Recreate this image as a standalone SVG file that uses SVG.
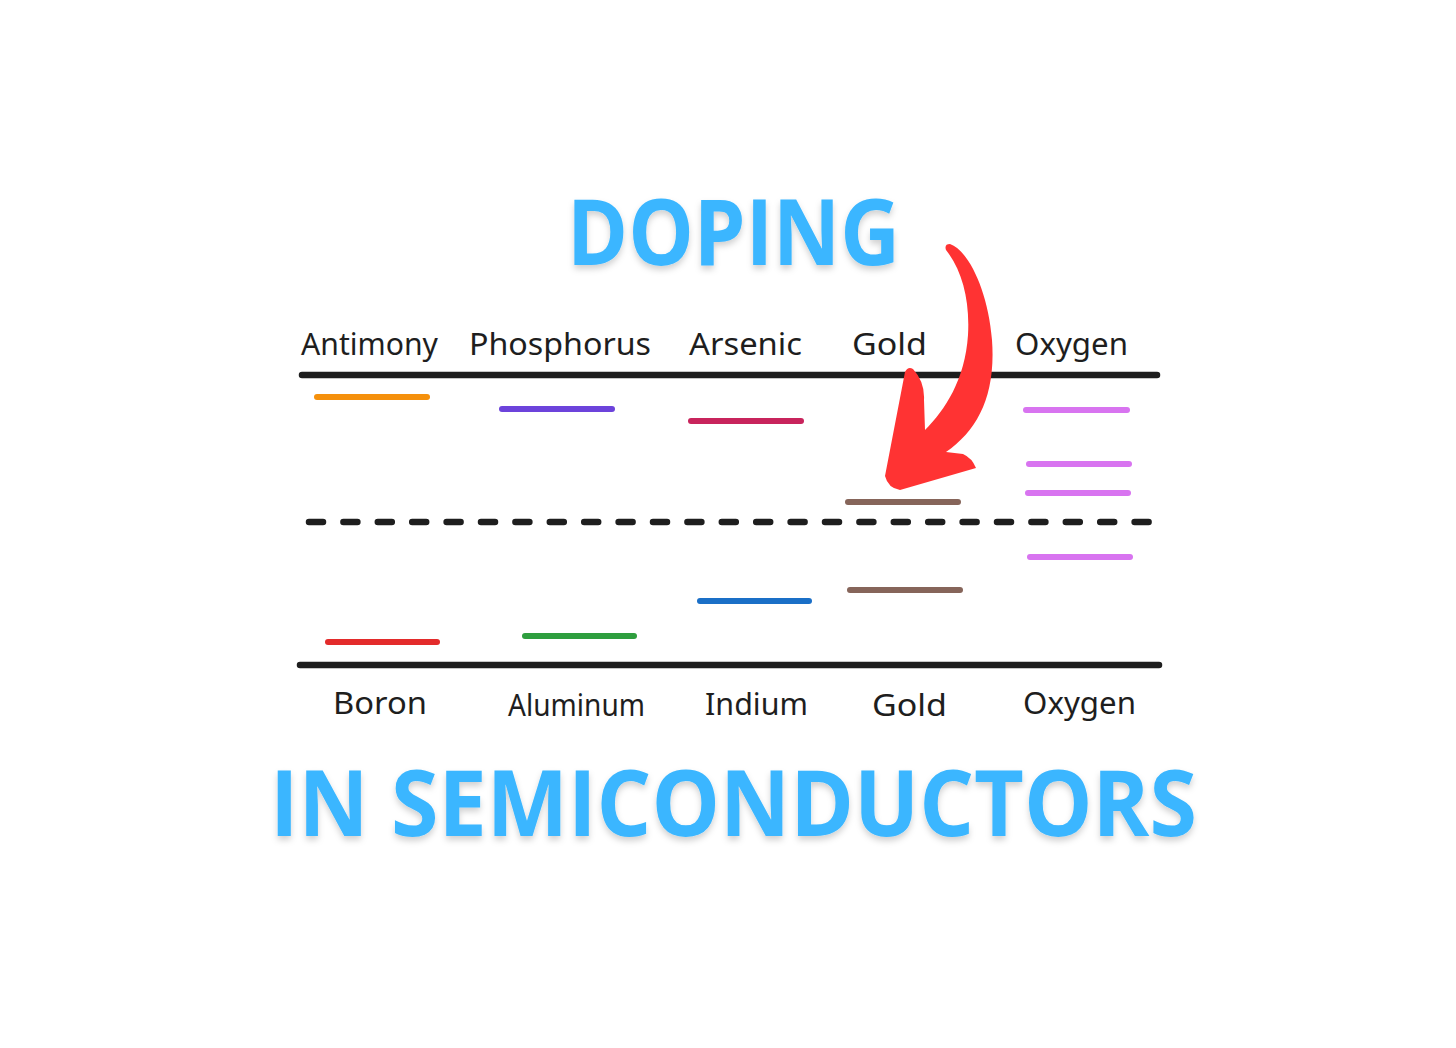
<svg xmlns="http://www.w3.org/2000/svg" width="1456" height="1048" viewBox="0 0 1456 1048">
<defs>
<filter id="sh" x="-10%" y="-20%" width="120%" height="150%">
<feDropShadow dx="0" dy="4" stdDeviation="3" flood-color="#000" flood-opacity="0.18"/>
</filter>
<style>
.title{font-family:"Open Sans","Noto Sans",sans-serif;font-weight:700;font-size:91px;fill:#3BB6FF;filter:url(#sh)}
.lbl{font-family:"Noto Sans","DejaVu Sans",sans-serif;font-size:30px;fill:#1e1e1e}
.axis{stroke:#1e1e1e;stroke-width:6.5;stroke-linecap:round;fill:none}
.lvl{stroke-width:6;stroke-linecap:round;fill:none}
</style>
</defs>
<rect width="1456" height="1048" fill="#fff"/>
<g id="title-top"><text class="title" x="567" y="265" textLength="333" lengthAdjust="spacingAndGlyphs">DOPING</text></g>
<g id="title-bottom"><text class="title" x="270" y="836" textLength="927" lengthAdjust="spacingAndGlyphs">IN SEMICONDUCTORS</text></g>
<g id="top-labels">
<text class="lbl" x="301" y="355" textLength="137" lengthAdjust="spacingAndGlyphs">Antimony</text>
<text class="lbl" x="469" y="355" textLength="182" lengthAdjust="spacingAndGlyphs">Phosphorus</text>
<text class="lbl" x="689" y="355" textLength="113" lengthAdjust="spacingAndGlyphs">Arsenic</text>
<text class="lbl" x="852" y="355" textLength="75" lengthAdjust="spacingAndGlyphs">Gold</text>
<text class="lbl" x="1015" y="355" textLength="113" lengthAdjust="spacingAndGlyphs">Oxygen</text>
</g>
<g id="bottom-labels">
<text class="lbl" x="333" y="714" textLength="94" lengthAdjust="spacingAndGlyphs">Boron</text>
<text class="lbl" x="508" y="716" textLength="137" lengthAdjust="spacingAndGlyphs">Aluminum</text>
<text class="lbl" x="705" y="715" textLength="103" lengthAdjust="spacingAndGlyphs">Indium</text>
<text class="lbl" x="872" y="716" textLength="75" lengthAdjust="spacingAndGlyphs">Gold</text>
<text class="lbl" x="1023" y="714" textLength="113" lengthAdjust="spacingAndGlyphs">Oxygen</text>
</g>
<g id="bands">
<line class="axis" x1="302" y1="375" x2="1157" y2="375"/>
<line class="axis" x1="300" y1="665" x2="1159" y2="665"/>
<line class="axis" x1="309" y1="522" x2="1152" y2="522" stroke-dasharray="14 20.4"/>
</g>
<g id="levels">
<line class="lvl" stroke="#F5900C" x1="317" y1="397" x2="427" y2="397"/>
<line class="lvl" stroke="#6C43DB" x1="502" y1="409" x2="612" y2="409"/>
<line class="lvl" stroke="#C8245C" x1="691" y1="421" x2="801" y2="421"/>
<line class="lvl" stroke="#86655A" x1="848" y1="502" x2="958" y2="502"/>
<line class="lvl" stroke="#86655A" x1="850" y1="590" x2="960" y2="590"/>
<line class="lvl" stroke="#D874F0" x1="1026" y1="410" x2="1127" y2="410"/>
<line class="lvl" stroke="#D874F0" x1="1029" y1="464" x2="1129" y2="464"/>
<line class="lvl" stroke="#D874F0" x1="1028" y1="493" x2="1128" y2="493"/>
<line class="lvl" stroke="#D874F0" x1="1030" y1="557" x2="1130" y2="557"/>
<line class="lvl" stroke="#E32B2B" x1="328" y1="642" x2="437" y2="642"/>
<line class="lvl" stroke="#2E9E3E" x1="525" y1="636" x2="634" y2="636"/>
<line class="lvl" stroke="#1A6FC7" x1="700" y1="601" x2="809" y2="601"/>
</g>
<g id="connectors">
<path fill="#FF3333" d="M950,244 C968,250 988,290 992,340 C996,395 978,430 946,452 L963,454 Q972,458 976,468 L900,490 Q888,488 885,476 L905,372 Q908,366 913,369 Q925,382 924,400 L925,430 C945,410 965,380 968,335 C970,300 962,270 946,250 Q944,244 950,244 Z"/>
</g>
</svg>
